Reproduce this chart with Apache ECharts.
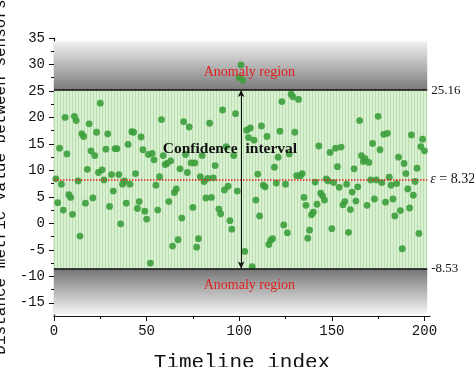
<!DOCTYPE html>
<html>
<head>
<meta charset="utf-8">
<script src="https://cdn.jsdelivr.net/npm/echarts@6/dist/echarts.min.js"></script>
<style>
  html, body { margin: 0; padding: 0; background: #fff; }
  #scatterBand { width: 474px; height: 367px; }
</style>
</head>
<body>
<div id="scatterBand"></div>
<script>
  // 时间轴序号从 1 开始, null 表示该处没有点
  var firstIndex = 1;
  var distanceValue = [
    8.4, 3.9, 14.2, 7.4, 2.5, 20.0, 13.1, 5.4, 4.9, 1.7,
    20.2, 19.4, 8.0, -2.4, 16.9, 16.4, 3.8, 10.2, 18.8, 13.7,
    4.8, 12.8, 17.2, 9.6, 22.7, 10.1, 8.2, 14.0, 16.9, 3.2,
    9.2, 6.1, 14.1, 14.1, 9.2, -0.1, 7.4, 8.0, 3.8, 14.9,
    7.4, 17.3, 17.2, 9.4, 2.8, 4.1, 16.3, 13.9, 2.3, 0.8,
    13.0, -7.5, 13.2, 12.0, 7.2, 2.5, 8.8, 19.6, 12.8, 11.1,
    11.3, 4.1, 11.8, -4.3, 5.8, 6.5, -3.1, 10.3, 1.0, 19.2,
    13.0, 9.6, 18.2, 11.4, 3.0, 11.4, -4.5, -2.9, 8.8, 12.8,
    7.9, 4.8, 8.5, 18.9, 4.9, 8.6, 10.9, null, 2.7, 1.8,
    21.4, 6.3, 14.5, 7.0, 0.5, -1.1, 12.8, 20.7, 6.1, 27.5,
    29.9, 27.0, -5.3, 17.6, 16.2, 18.0, -8.2, 15.7, 4.4, 9.3,
    1.4, 18.4, 7.2, 6.9, 16.4, -4.0, -3.2, -2.9, 10.6, 7.6,
    12.5, 17.4, 23.0, -0.3, 7.4, -1.8, 13.1, 24.4, 23.9, 17.2,
    9.0, 23.4, 9.0, 9.4, 4.9, 3.4, -2.8, -1.3, 1.6, 2.1,
    7.8, 3.6, 14.6, 5.7, 5.2, 4.4, 8.4, 8.0, 13.4, -1.0,
    7.7, 14.2, 10.7, 6.8, 14.4, 3.5, 4.1, 7.4, -1.7, 2.6,
    5.9, 10.3, 4.2, 6.9, 19.4, 12.8, 11.7, 12.2, 3.4, 11.5,
    8.2, 15.1, 4.6, 8.2, 20.2, 13.9, 7.7, 16.8, 4.0, 17.0,
    8.7, 7.2, 4.6, 1.4, 7.5, 12.5, 2.4, -4.8, 11.3, 9.4,
    6.5, 2.9, 16.7, 5.3, 7.9, 10.4, -1.9, 14.5, 15.9, 13.7
  ];
  var upperLimit = 25.16;
  var lowerLimit = -8.53;
  var epsilon = 8.32;
  var bandEnd = 201.5;
  var upperBandTop = 34.4;
  var lowerBandBottom = -17.2;
  var arrowX = 101;

  var xTicks = [0, 50, 100, 150, 200];
  var xMinorTicks = [25, 75, 125, 175];
  var yTicks = [-15, -10, -5, 0, 5, 10, 15, 20, 25, 30, 35];
  var yMinorTicks = [-12.5, -7.5, -2.5, 2.5, 7.5, 12.5, 17.5, 22.5, 27.5, 32.5];

  var points = [];
  distanceValue.forEach(function (v, i) {
    if (v !== null) points.push([firstIndex + i, v]);
  });

  // 竖条纹的浅绿色填充
  var stripe = document.createElement('canvas');
  stripe.width = 3;
  stripe.height = 4;
  var ctx = stripe.getContext('2d');
  ctx.fillStyle = '#d9f0d2';
  ctx.fillRect(0, 0, 3, 4);
  ctx.fillStyle = '#b9dfae';
  ctx.fillRect(0, 0, 1, 4);

  var monoFont = '"Liberation Mono", monospace';
  var serifFont = '"Liberation Serif", serif';

  var chart = echarts.init(document.getElementById('scatterBand'));
  var option = {
    animation: false,
    grid: {
      left: 54,
      right: 44,
      top: 38,
      bottom: 51,
      containLabel: false,
      outerBoundsMode: 'none'
    },
    xAxis: [{
      type: 'value',
      min: 0,
      max: 203,
      position: 'bottom',
      name: 'Timeline index',
      nameLocation: 'middle',
      nameGap: 36,
      nameTextStyle: { fontFamily: monoFont, fontSize: 21, color: '#111' },
      axisLine: { show: true, onZero: false, lineStyle: { color: '#111', width: 1.2 } },
      axisTick: { show: true, length: 5, customValues: xTicks, lineStyle: { color: '#111' } },
      axisLabel: { customValues: xTicks, fontFamily: monoFont, fontSize: 14, color: '#111', margin: 8 },
      splitLine: { show: false }
    }, {
      type: 'value',
      min: 0,
      max: 203,
      position: 'bottom',
      axisLine: { show: false, onZero: false },
      axisTick: { show: true, length: 3, customValues: xMinorTicks, lineStyle: { color: '#111' } },
      axisLabel: { show: false },
      splitLine: { show: false }
    }],
    yAxis: [{
      type: 'value',
      min: -17.5,
      max: 35,
      position: 'left',
      name: 'Distance metric value between sensors',
      nameLocation: 'middle',
      nameGap: 38,
      nameTextStyle: { fontFamily: monoFont, fontSize: 16, color: '#111' },
      axisLine: { show: true, onZero: false, lineStyle: { color: '#111', width: 1.2 } },
      axisTick: { show: true, length: 5, customValues: yTicks, lineStyle: { color: '#111' } },
      axisLabel: { customValues: yTicks, fontFamily: monoFont, fontSize: 14, color: '#111', margin: 9 },
      splitLine: { show: false }
    }, {
      type: 'value',
      min: -17.5,
      max: 35,
      position: 'left',
      axisLine: { show: false, onZero: false },
      axisTick: { show: true, length: 3, customValues: yMinorTicks, lineStyle: { color: '#111' } },
      axisLabel: { show: false },
      splitLine: { show: false }
    }],
    series: [{
      // 背景区域
      type: 'scatter',
      data: [],
      z: 1,
      silent: true,
      markArea: {
        silent: true,
        data: [
          [{
            coord: [0, upperLimit],
            itemStyle: {
              color: new echarts.graphic.LinearGradient(0, 0, 0, 1, [
                { offset: 0, color: '#f2f2f2' },
                { offset: 1, color: '#7a7a7a' }
              ])
            }
          }, { coord: [bandEnd, upperBandTop] }],
          [{
            coord: [0, lowerBandBottom],
            itemStyle: {
              color: new echarts.graphic.LinearGradient(0, 0, 0, 1, [
                { offset: 0, color: '#747474' },
                { offset: 1, color: '#f6f6f6' }
              ])
            }
          }, { coord: [bandEnd, lowerLimit] }],
          [{
            coord: [0, lowerLimit],
            itemStyle: { color: { image: stripe, repeat: 'repeat' } }
          }, { coord: [bandEnd, upperLimit] }]
        ]
      }
    }, {
      type: 'scatter',
      data: points,
      z: 3,
      symbolSize: 6.8,
      itemStyle: { color: '#3c9e3c', opacity: 0.9 }
    }, {
      // 阈值线与双箭头
      type: 'scatter',
      data: [],
      z: 4,
      silent: true,
      markLine: {
        silent: true,
        symbol: ['none', 'none'],
        data: [
          [{
            coord: [0, upperLimit],
            lineStyle: { color: '#111', width: 1.6, type: 'solid' },
            label: { show: true, position: 'end', formatter: '25.16', distance: 4,
              fontFamily: serifFont, fontSize: 13, color: '#111' }
          }, { coord: [bandEnd, upperLimit] }],
          [{
            coord: [0, lowerLimit],
            lineStyle: { color: '#111', width: 1.6, type: 'solid' },
            label: { show: true, position: 'end', formatter: '-8.53', distance: 4,
              fontFamily: serifFont, fontSize: 13, color: '#111' }
          }, { coord: [bandEnd, lowerLimit] }],
          [{
            coord: [0, epsilon],
            lineStyle: { color: '#e02020', width: 1.5, type: 'dotted' },
            label: { show: true, position: 'end', formatter: '{e|ε} = 8.32', distance: 3,
              fontFamily: serifFont, fontSize: 14, color: '#111',
              rich: { e: { fontStyle: 'italic', fontFamily: serifFont, fontSize: 14, color: '#111' } } }
          }, { coord: [bandEnd, epsilon] }],
          [{
            coord: [arrowX, upperLimit],
            symbol: 'arrow',
            symbolSize: [5, 7],
            lineStyle: { color: '#111', width: 1, type: 'solid' },
            label: { show: false }
          }, { coord: [arrowX, lowerLimit], symbol: 'arrow', symbolSize: [5, 7] }]
        ]
      }
    }, {
      // 文字标注
      type: 'scatter',
      data: [],
      z: 5,
      silent: true,
      markPoint: {
        silent: true,
        symbol: 'rect',
        symbolSize: 1,
        itemStyle: { color: 'rgba(0,0,0,0)' },
        data: [{
          name: 'Anomaly region',
          coord: [105.5, 28.6],
          label: { show: true, position: 'inside', formatter: '{b}', fontFamily: serifFont,
            fontSize: 14, color: '#e0201f' }
        }, {
          name: 'Anomaly region',
          coord: [105.5, -11.7],
          label: { show: true, position: 'inside', formatter: '{b}', fontFamily: serifFont,
            fontSize: 14, color: '#e0201f' }
        }, {
          name: 'Confidence  interval',
          coord: [95, 14.1],
          label: { show: true, position: 'inside', formatter: '{b}', fontFamily: serifFont,
            fontSize: 15.5, fontWeight: 'bold', color: '#111' }
        }]
      }
    }]
  };
  chart.setOption(option);
  window.addEventListener('resize', function () {
    chart.resize();
  });
</script>
</body>
</html>
